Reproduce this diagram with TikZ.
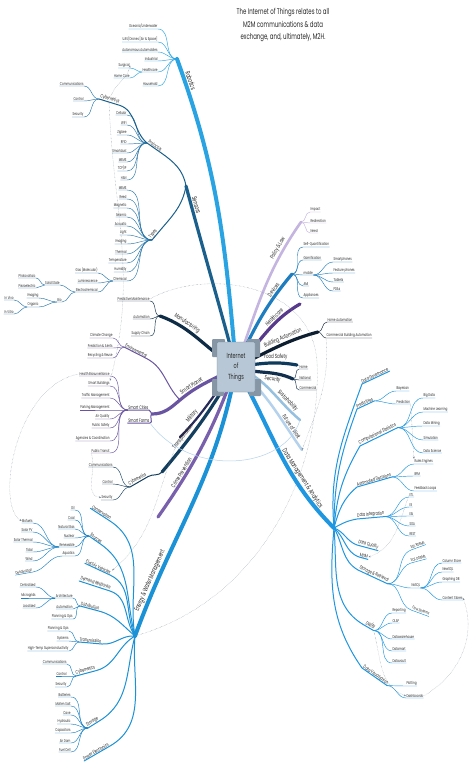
\documentclass[tikz,border=0pt]{standalone}
\usepackage{fontspec}
\setmainfont{Poppins}[FakeStretch=0.66]
\usetikzlibrary{arrows.meta}
\definecolor{robotblue}{RGB}{41,163,226}
\definecolor{sensorteal}{RGB}{27,96,140}
\definecolor{sensorleaf}{RGB}{40,118,168}
\definecolor{policylilac}{RGB}{196,180,224}
\definecolor{deviceblue}{RGB}{30,125,190}
\definecolor{healthpurple}{RGB}{88,58,140}
\definecolor{buildnavy}{RGB}{12,30,48}
\definecolor{foodnavy}{RGB}{14,58,92}
\definecolor{securenavy}{RGB}{18,48,78}
\definecolor{sustainblue}{RGB}{150,192,224}
\definecolor{workblue}{RGB}{180,210,236}
\definecolor{datablue}{RGB}{30,150,224}
\definecolor{planetpurple}{RGB}{104,84,160}
\definecolor{manufnavy}{RGB}{14,44,70}
\definecolor{militaryindigo}{RGB}{40,44,90}
\definecolor{transportnavy}{RGB}{20,62,94}
\definecolor{crimeviolet}{RGB}{120,96,172}
\definecolor{energyblue}{RGB}{28,146,214}
\definecolor{energyleaf}{RGB}{26,128,196}
\definecolor{linkgrey}{RGB}{120,135,150}
\definecolor{inkgrey}{RGB}{40,40,40}
\definecolor{corefill}{RGB}{183,199,213}
\definecolor{coreedge}{RGB}{120,140,158}
\definecolor{tabgrey}{RGB}{135,150,164}
\newcommand\fleaf{\fontsize{4.1}{4.5}\selectfont}
\newcommand\flbl{\fontsize{5}{5.4}\selectfont}
\newcommand\fmain{\fontsize{6}{6.4}\selectfont}
\newcommand\fbig{\fontsize{6.8}{7.2}\selectfont}
\newcommand\ftitle{\fontsize{8.2}{12.6}\selectfont}
\newcommand\fcore{\fontsize{7.4}{10.5}\selectfont}
\begin{document}
\begin{tikzpicture}[x=1pt,y=-1pt,
  trunk/.style={line width=3.2pt,line cap=round},
  bigtrunk/.style={line width=4pt,line cap=round},
  bough/.style={line width=1pt,line cap=round},
  twig/.style={line width=0.45pt},
  leaf/.style={font=\fleaf,inner sep=0.3pt,text=inkgrey},
  lleaf/.style={leaf,anchor=south east},
  rleaf/.style={leaf,anchor=south west},
  lbl/.style={font=\flbl,inner sep=0.4pt,text=inkgrey},
  mainlbl/.style={font=\fmain,inner sep=1pt,text=inkgrey,sloped,above},
  biglbl/.style={mainlbl,font=\fbig},
  xlink/.style={draw=linkgrey,line width=0.35pt,densely dotted,-{Stealth[length=2.2pt,width=1.8pt]}}]
\path[use as bounding box,fill=white] (0,0) rectangle (474,773);

\node[font=\ftitle,align=center,text=inkgrey] (title) at (283,25) {The Internet of Things relates to all\\M2M communications \& data\\exchange, and, ultimately, M2H.};

\coordinate (core) at (236,367);

% Robotics
\coordinate (robo) at (177,59);
\draw[bigtrunk,robotblue] (core) to[out=95,in=-70] node[biglbl,pos=0.93] (robol) {Robotics} (robo);
\foreach \t/\y [count=\i] in {{Oceanic/Underwater}/29,{UAV/Drones [Air \& Space]}/42,{Autonomous Automobiles}/52,Industrial/61,Healthcare/72,Household/86}{
  \node[lleaf] (robo\i) at (158,\y) {\t};
  \draw[twig,robotblue] (robo) to[out=180,in=0] (robo\i.south east) -- (robo\i.south west);
}
\foreach \t/\y [count=\i] in {Surgical/68,{Home Care}/78}{
  \node[lleaf] (care\i) at (130,\y) {\t};
  \draw[twig,robotblue] (robo5.south west) to[out=180,in=0] (care\i.south east) -- (care\i.south west);
}

% Sensors
\coordinate (sens) at (186,186);
\draw[trunk,sensorteal] (core) to[out=105,in=-75] node[biglbl,pos=0.9] (sensl) {Sensors} (sens);
\node[lbl,rotate=-35,anchor=south west] (prot) at (147,143) {Protocols};
\draw[bough,sensorteal] (sens) to[out=100,in=-35] (prot.south east) -- (prot.south west);
\foreach \t/\y [count=\i] in {Cellular/115,WiFi/125,Zigbee/135,RFID/144,Smartdust/153,MEMS/162,{TCP/IP}/171,HAN/180}{
  \node[lleaf] (prot\i) at (127,\y) {\t};
  \draw[twig,sensorleaf] (prot.south west) to[out=180,in=0] (prot\i.south east) -- (prot\i.south west);
}
\node[lbl,rotate=-17,anchor=south west] (cybt) at (99,99) {Cybernetics};
\draw[bough,sensorteal] (prot.south west) to[out=140,in=-17] (cybt.south east) -- (cybt.south west);
\foreach \t/\y [count=\i] in {Communications/86,Control/101,Security/117}{
  \node[lleaf] (cybt\i) at (84,\y) {\t};
  \draw[twig,sensorleaf] (cybt.south west) to[out=180,in=0] (cybt\i.south east) -- (cybt\i.south west);
}
\node[lbl,rotate=50,anchor=south west] (types) at (152,240) {Types};
\draw[bough,sensorteal] (sens) to[out=-100,in=50] (types.south east) -- (types.south west);
\foreach \t/\y [count=\i] in {MEMS/190,Reed/199,Magnetic/208,Seismic/217,Acoustic/226,Light/235,Imaging/244,Thermal/254,Temperature/263,Humidity/272,Chemical/281}{
  \node[lleaf] (type\i) at (127,\y) {\t};
  \draw[twig,sensorleaf] (types.south west) to[out=180,in=0] (type\i.south east) -- (type\i.south west);
}
\foreach \t/\y [count=\i] in {{Gas (Molecular)}/273,Luminescence/283,Electrochemical/292}{
  \node[lleaf] (chem\i) at (98,\y) {\t};
  \draw[twig,sensorleaf] (type11.south west) to[out=180,in=0] (chem\i.south east) -- (chem\i.south west);
}
\foreach \t/\x/\y [count=\i] in {{Solid State}/60/285,Bio/62/302}{
  \node[lleaf] (elec\i) at (\x,\y) {\t};
  \draw[twig,sensorleaf] (chem3.south west) to[out=180,in=0] (elec\i.south east) -- (elec\i.south west);
}
\foreach \t/\y [count=\i] in {Photovoltaic/278,Piezoelectric/288}{
  \node[lleaf] (solid\i) at (36,\y) {\t};
  \draw[twig,sensorleaf] (elec1.south west) to[out=180,in=0] (solid\i.south east) -- (solid\i.south west);
}
\foreach \t/\y [count=\i] in {Imaging/298,Organic/307}{
  \node[lleaf] (bio\i) at (39,\y) {\t};
  \draw[twig,sensorleaf] (elec2.south west) to[out=180,in=0] (bio\i.south east) -- (bio\i.south west);
}
\foreach \t/\y [count=\i] in {{In Vivo}/300,{In Vitro}/314}{
  \node[lleaf] (org\i) at (14,\y) {\t};
  \draw[twig,sensorleaf] (bio2.south west) to[out=180,in=0] (org\i.south east) -- (org\i.south west);
}

% Policy & Law
\coordinate (pol) at (301,222);
\draw[trunk,policylilac,line width=2.6pt] (core) to[out=70,in=-125] node[mainlbl,pos=0.8] (poll) {Policy \& Law} (pol);
\foreach \t/\y [count=\i] in {Impact/212,Redirection/223,Need/233}{
  \node[rleaf] (pol\i) at (310,\y) {\t};
  \draw[twig,policylilac] (pol) to[out=0,in=180] (pol\i.south west) -- (pol\i.south east);
}

% Devices
\coordinate (dev) at (292,274);
\draw[trunk,deviceblue] (core) to[out=65,in=-130] node[mainlbl,pos=0.8] (devl) {Devices} (dev);
\foreach \t/\y [count=\i] in {{Self-Quantification}/247,Gamification/260,mobile/275,AMI/286,Appliances/298}{
  \node[rleaf] (dev\i) at (303,\y) {\t};
  \draw[twig,deviceblue] (dev) to[out=0,in=180] (dev\i.south west) -- (dev\i.south east);
}
\foreach \t/\y [count=\i] in {Smartphones/262,{Feature phones}/273,Tablets/282,PDAs/291}{
  \node[rleaf] (mob\i) at (333,\y) {\t};
  \draw[twig,deviceblue] (dev3.south east) to[out=0,in=180] (mob\i.south west) -- (mob\i.south east);
}

% Healthcare, Building Automation, Food Safety, Security
\coordinate (hlth) at (300,304);
\draw[trunk,healthpurple] (core) to[out=45,in=-150] node[mainlbl,pos=0.7] (hlthl) {Healthcare} (hlth);
\coordinate (bld) at (318,332);
\draw[trunk,buildnavy] (core) to[out=25,in=-165] node[mainlbl,pos=0.62] (bldl) {Building Automation} (bld);
\foreach \t/\x/\y [count=\i] in {{Home Automation}/327/322,{Commercial Building Automation}/326/338}{
  \node[rleaf] (bld\i) at (\x,\y) {\t};
  \draw[twig,buildnavy] (bld) to[out=0,in=180] (bld\i.south west) -- (bld\i.south east);
}
\coordinate (food) at (297,365);
\draw[trunk,foodnavy] (core) to[out=8,in=170] node[mainlbl,pos=0.66] (foodl) {Food Safety} (food);
\coordinate (secu) at (293,379);
\draw[trunk,securenavy] (core) to[out=-20,in=155] node[mainlbl,pos=0.66,below=0.5pt] (secul) {Security} (secu);
\foreach \t/\y [count=\i] in {Home/369,National/380,Commercial/390}{
  \node[rleaf] (secu\i) at (299,\y) {\t};
  \draw[twig,securenavy] (secu) to[out=0,in=180] (secu\i.south west) -- (secu\i.south east);
}

% Sustainability, Future of Work
\coordinate (sust) at (300,420);
\draw[trunk,sustainblue,line width=2.5pt] (core) to[out=-20,in=140] node[mainlbl,pos=0.75] (sustl) {Sustainability} (sust);
\coordinate (fow) at (302,450);
\draw[trunk,workblue,line width=2.5pt] (core) to[out=-40,in=125] node[mainlbl,pos=0.78] (fowl) {Future of Work} (fow);

% Data Management & Analytics
\coordinate (dm) at (334,528);
\draw[bigtrunk,datablue] (core) to[out=-60,in=135] node[biglbl,pos=0.7] (dml) {Data Management \& Analytics} (dm);
\node[lbl,rotate=25,anchor=south west] (dgov) at (362,384) {Data Governance};
\draw[bough,datablue] (dm) to[out=95,in=-110] (dgov.south west) -- (dgov.south east);
\node[lbl,rotate=25,anchor=south west] (pred) at (357,409) {Predictives};
\draw[bough,datablue] (dm) to[out=90,in=-110] (pred.south west) -- (pred.south east);
\foreach \t/\y [count=\i] in {Bayesian/391,Prediction/404}{
  \node[rleaf] (pred\i) at (396,\y) {\t};
  \draw[twig,datablue] (pred.south east) to[out=0,in=180] (pred\i.south west) -- (pred\i.south east);
}
\node[lbl,rotate=26,anchor=south west] (cstat) at (360,446) {Computational Statistics};
\draw[bough,datablue] (dm) to[out=85,in=-120] (cstat.south west) -- (cstat.south east);
\foreach \t/\y [count=\i] in {{Big Data}/398,{Machine Learning}/412,{Data Mining}/426,Simulation/440,{Data Science}/453}{
  \node[rleaf] (stat\i) at (423,\y) {\t};
  \draw[twig,datablue] (cstat.south east) to[out=0,in=180] (stat\i.south west) -- (stat\i.south east);
}
\node[lbl,rotate=16,anchor=south west] (adec) at (357,487) {Automated Decisions};
\draw[bough,datablue] (dm) to[out=75,in=-140] (adec.south west) -- (adec.south east);
\foreach \t/\y [count=\i] in {{Rules Engines}/464,BPM/476,{Feedback Loops}/491}{
  \node[rleaf] (auto\i) at (414,\y) {\t};
  \draw[twig,datablue] (adec.south east) to[out=0,in=180] (auto\i.south west) -- (auto\i.south east);
}
\node[lbl,rotate=5,anchor=south west] (dint) at (357,519) {Data Integration};
\draw[bough,datablue] (dm) to[out=30,in=-170] (dint.south west) -- (dint.south east);
\foreach \t/\y [count=\i] in {ETL/497,EII/507,EAI/516,SOA/526,REST/536}{
  \node[rleaf] (intg\i) at (409,\y) {\t};
  \draw[twig,datablue] (dint.south east) to[out=0,in=180] (intg\i.south west) -- (intg\i.south east);
}
\node[lbl,rotate=-15,anchor=south west] (dqual) at (357,545) {Data Quality};
\draw[bough,datablue] (dm) to[out=-20,in=160] (dqual.south west) -- (dqual.south east);
\node[lbl,rotate=-15,anchor=south west] (mdm) at (359,557) {MDM};
\draw[bough,datablue] (dm) to[out=-40,in=160] (mdm.south west) -- (mdm.south east);
\node[lbl,rotate=-25,anchor=south west] (stor) at (358,570) {Storage \& Retrieval};
\draw[bough,datablue] (dm) to[out=-60,in=150] (stor.south west) -- (stor.south east);
\foreach \t/\r/\y [count=\i] in {{SQL RDBMS}/20/550,{SQL ODBMS}/15/563,NoSQL/0/588,{Flow Systems}/-20/610}{
  \node[rleaf,rotate=\r] (ret\i) at (411,\y) {\t};
  \draw[twig,datablue] (stor.south east) to[out=0,in=180+\r] (ret\i.south west) -- (ret\i.south east);
}
\foreach \t/\y [count=\i] in {{Column Store}/563,NewSQL/572,{Graphing DB}/582,{Content Stores}/600}{
  \node[rleaf] (nosql\i) at (442,\y) {\t};
  \draw[twig,datablue] (ret3.south east) to[out=0,in=180] (nosql\i.south west) -- (nosql\i.south east);
}
\node[lbl,rotate=-30,anchor=south west] (dwbi) at (364,625) {DW/BI};
\draw[bough,datablue] (dm) to[out=-85,in=150] (dwbi.south west) -- (dwbi.south east);
\foreach \t/\y [count=\i] in {Reporting/613,OLAP/623,Datawarehouse/639,Datamart/651,Datavault/663}{
  \node[rleaf] (dwbi\i) at (392,\y) {\t};
  \draw[twig,datablue] (dwbi.south east) to[out=0,in=180] (dwbi\i.south west) -- (dwbi\i.south east);
}
\node[lbl,rotate=-35,anchor=south west] (dviz) at (362,668) {Data Visualization};
\draw[bough,datablue] (dm) to[out=-95,in=125] (dviz.south west) -- (dviz.south east);
\foreach \t/\y [count=\i] in {Plotting/686,Dashboards/698}{
  \node[rleaf] (dviz\i) at (406,\y) {\t};
  \draw[twig,datablue] (dviz.south east) to[out=0,in=180] (dviz\i.south west) -- (dviz\i.south east);
}

% Manufacturing
\coordinate (manu) at (160,316);
\draw[trunk,manufnavy] (core) to[out=150,in=-20] node[mainlbl,pos=0.72] (manul) {Manufacturing} (manu);
\foreach \t/\y [count=\i] in {{Predictive Maintenance}/301,Automation/319,{Supply Chain}/336}{
  \node[lleaf] (manu\i) at (150,\y) {\t};
  \draw[twig,manufnavy] (manu) to[out=180,in=0] (manu\i.south east) -- (manu\i.south west);
}

% Smart Planet
\coordinate (spj) at (180,400);
\coordinate (sp) at (152,414);
\draw[trunk,planetpurple] (core) to[out=-150,in=40] node[mainlbl,pos=0.75] (spl) {Smart Planet} (spj) to[out=220,in=0] (sp);
\node[lbl,anchor=south east] (scity) at (149,410) {Smart Cities};
\draw[bough,planetpurple] (sp) to[out=160,in=0] (scity.south east) -- (scity.south west);
\node[lbl,anchor=south east] (sfarm) at (150,423) {Smart Farms};
\draw[bough,planetpurple] (sp) to[out=-160,in=0] (sfarm.south east) -- (sfarm.south west);
\foreach \t/\y [count=\i] in {{Health Biosurveillance}/376,{Smart Buildings}/386,{Traffic Management}/398,{Parking Management}/410,{Air Quality}/419,{Public Safety}/428,{Agencies \& Coordination}/441,{Public Transit}/453}{
  \node[lleaf] (sc\i) at (110,\y) {\t};
  \draw[twig,planetpurple] (scity.south west) to[out=180,in=0] (sc\i.south east) -- (sc\i.south west);
}
\node[lbl,rotate=-27,anchor=south west] (env) at (124,347) {Environmental};
\draw[bough,planetpurple] (spj) to[out=135,in=-27] (env.south east) -- (env.south west);
\foreach \t/\y [count=\i] in {{Climate Change}/338,{Prediction \& Alerts}/348,{Recycling \& Reuse}/358}{
  \node[lleaf] (env\i) at (113,\y) {\t};
  \draw[twig,planetpurple] (env.south west) to[out=180,in=0] (env\i.south east) -- (env\i.south west);
}

% Military, Transportation, Crime Prevention
\coordinate (mil) at (180,437);
\draw[trunk,militaryindigo,line width=2.2pt] (core) to[out=-130,in=45] node[mainlbl,pos=0.75] (mill) {Military} (mil);
\coordinate (trn) at (162,472);
\draw[trunk,transportnavy] (core) to[out=-120,in=50] node[mainlbl,pos=0.7] (trnl) {Transportation} (trn);
\node[lbl,rotate=30,anchor=south west] (tcyb) at (130,487) {Cybernetics};
\draw[bough,transportnavy] (trn) to[out=230,in=30] (tcyb.south east) -- (tcyb.south west);
\foreach \t/\y [count=\i] in {Communications/467,Control/484,Security/500}{
  \node[lleaf] (tcyb\i) at (113,\y) {\t};
  \draw[twig,transportnavy] (tcyb.south west) to[out=180,in=0] (tcyb\i.south east) -- (tcyb\i.south west);
}
\coordinate (crim) at (158,517);
\draw[trunk,crimeviolet] (core) to[out=-110,in=55] node[mainlbl,pos=0.72] (criml) {Crime Prevention} (crim);

% Energy & Water Management
\coordinate (egy) at (135,636);
\draw[bigtrunk,energyblue] (core) to[out=-100,in=70] node[biglbl,pos=0.82] (egyl) {Energy \& Water Management} (egy);
\node[lbl,rotate=-33,anchor=south east] (cons) at (110,521) {Conservation};
\draw[bough,energyblue] (egy) to[out=100,in=-33] (cons.south east) -- (cons.south west);
\node[lbl,rotate=-35,anchor=south west] (src) at (89,536) {Sources};
\draw[bough,energyblue] (egy) to[out=105,in=-35] (src.south east) -- (src.south west);
\foreach \t/\y [count=\i] in {Oil/510,Coal/520,{Natural Gas}/529,Nuclear/538,Renewable/547,Aquatics/556}{
  \node[lleaf] (src\i) at (75,\y) {\t};
  \draw[twig,energyleaf] (src.south west) to[out=180,in=0] (src\i.south east) -- (src\i.south west);
}
\foreach \t/\y [count=\i] in {Biofuels/523,{Solar PV}/532,{Solar Thermal}/542,Tidal/552,Wind/561}{
  \node[lleaf] (ren\i) at (33,\y) {\t};
  \draw[twig,energyleaf] (src5.south west) to[out=180,in=0] (ren\i.south east) -- (ren\i.south west);
}
\node[lleaf,rotate=10] (desal) at (33,572) {Desalination};
\draw[twig,energyleaf] (src6.south west) to[out=180,in=10] (desal.south east) -- (desal.south west);
\node[lbl,rotate=-25,anchor=south east] (ev) at (110,575) {Electric Vehicles};
\draw[bough,energyblue] (egy) to[out=115,in=-25] (ev.south east) -- (ev.south west);
\node[lbl,rotate=-18,anchor=south east] (dr) at (110,591) {Demand Response};
\draw[bough,energyblue] (egy) to[out=125,in=-18] (dr.south east) -- (dr.south west);
\node[lbl,rotate=-15,anchor=south west] (dist) at (80,606) {Distribution};
\draw[bough,energyblue] (egy) to[out=140,in=-15] (dist.south east) -- (dist.south west);
\foreach \t/\y [count=\i] in {Architecture/598,Automation/609,{Planning \& Ops}/619}{
  \node[lleaf] (dist\i) at (73,\y) {\t};
  \draw[twig,energyleaf] (dist.south west) to[out=180,in=0] (dist\i.south east) -- (dist\i.south west);
}
\foreach \t/\y [count=\i] in {Centralized/587,Microgrids/598,Localized/608}{
  \node[lleaf] (arch\i) at (36,\y) {\t};
  \draw[twig,energyleaf] (dist1.south west) to[out=180,in=0] (arch\i.south east) -- (arch\i.south west);
}
\node[lbl,rotate=-5,anchor=south west] (trans) at (79,642) {Transmission};
\draw[bough,energyblue] (egy) to[out=175,in=-5] (trans.south east) -- (trans.south west);
\foreach \t/\y [count=\i] in {{Planning \& Ops}/631,Systems/641,{High-Temp Superconductivity}/651}{
  \node[lleaf] (trans\i) at (69,\y) {\t};
  \draw[twig,energyleaf] (trans.south west) to[out=180,in=0] (trans\i.south east) -- (trans\i.south west);
}
\node[lbl,rotate=15,anchor=south west] (ecyb) at (76,676) {Cybernetics};
\draw[bough,energyblue] (egy) to[out=-150,in=15] (ecyb.south east) -- (ecyb.south west);
\foreach \t/\y [count=\i] in {Communications/664,Control/676,Security/687}{
  \node[lleaf] (ecyb\i) at (67,\y) {\t};
  \draw[twig,energyleaf] (ecyb.south west) to[out=180,in=0] (ecyb\i.south east) -- (ecyb\i.south west);
}
\node[lbl,rotate=32,anchor=south west] (stg) at (88,728) {Storage};
\draw[bough,energyblue] (egy) to[out=-105,in=32] (stg.south east) -- (stg.south west);
\foreach \t/\y [count=\i] in {Batteries/697,{Molten Salt}/706,Cave/715,Hydraulic/724,Capacitors/733,{Air Dam}/743,{Fuel Cell}/752}{
  \node[lleaf] (stg\i) at (71,\y) {\t};
  \draw[twig,energyleaf] (stg.south west) to[out=180,in=0] (stg\i.south east) -- (stg\i.south west);
}
\node[lbl,rotate=30,anchor=south east] (pel) at (110,746) {Power Electronics};
\draw[bough,energyblue] (egy) to[out=-95,in=30] (pel.south east) -- (pel.south west);

% cross links
\draw[xlink] (cybt.north) to[out=70,in=-100] (care1.east);
\draw[xlink] (cybt.south) to[out=-88,in=75] (sc2.north east);
\draw[xlink] (sc1.west) .. controls (15,385) and (-5,505) .. (ren1.west);
\coordinate (arcr) at (317,362);
\draw[xlink,-] (manu1.east) .. controls (205,268) and (312,282) .. (arcr) .. controls (322,470) and (262,600) .. (egy);
\draw[xlink] (bld2.south west) to[out=-85,in=70] (fow);
\draw[xlink] (pred2.south east) to[out=-85,in=95] (auto1.north west);
\draw[xlink] (intg1.west) to[out=-110,in=20] (mdm.east);
\draw[xlink] (dwbi.south east) to[out=-75,in=160] (dviz2.west);
\draw[xlink] (dviz2.east) to[out=30,in=-70] (nosql4.east);
\draw[xlink] (mil) to[out=-115,in=40] (ev.north east);
\draw[xlink] (sc8.south west) to[out=-70,in=175] (tcyb3.west);
\draw[workblue,line width=0.5pt] (sfarm.south east) .. controls (190,478) and (285,470) .. (sust);

% core
\fill[tabgrey,rounded corners=1pt] (212,339) rectangle (225,357);
\fill[tabgrey,rounded corners=1pt] (247,339) rectangle (260,357);
\fill[tabgrey,rounded corners=1pt] (212,379) rectangle (224,396);
\fill[tabgrey,rounded corners=1pt] (249,379) rectangle (261,396);
\node[draw=coreedge,fill=corefill,minimum width=38,minimum height=50,align=center,font=\fcore,text=inkgrey,inner sep=1pt,rounded corners=1pt] (iot) at (core) {Internet\\of\\Things};
\end{tikzpicture}
\end{document}
